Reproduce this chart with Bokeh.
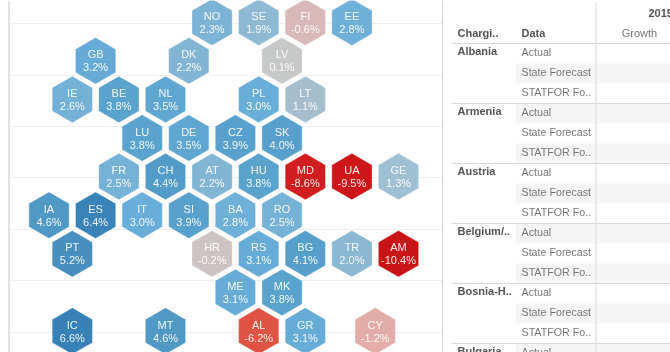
from bokeh.plotting import figure
from bokeh.layouts import row
from bokeh.models import Range1d, FixedTicker, Span, ColumnDataSource, LinearColorMapper, BoxAnnotation
from bokeh.core.properties import value
from bokeh.embed import file_html
from bokeh.resources import INLINE
import numpy as np

codes = ["NO","SE","FI","EE","GB","DK","LV","IE","BE","NL","PL","LT","LU","DE","CZ","SK",
         "FR","CH","AT","HU","MD","UA","GE","IA","ES","IT","SI","BA","RO","PT","HR","RS",
         "BG","TR","AM","ME","MK","IC","MT","AL","GR","CY"]
growth = [2.3,1.9,-0.6,2.8,3.2,2.2,0.1,2.6,3.8,3.5,3.0,1.1,3.8,3.5,3.9,4.0,
          2.5,4.4,2.2,3.8,-8.6,-9.5,1.3,4.6,6.4,3.0,3.9,2.8,2.5,5.2,-0.2,3.1,
          4.1,2.0,-10.4,3.1,3.8,6.6,4.6,-6.2,3.1,-1.2]
cols = [7,9,11,13,2,6,10,1,3,5,9,11,4,6,8,10,
        3,5,7,9,11,13,15,0,2,4,6,8,10,1,7,9,
        11,13,15,8,10,1,5,9,11,14]
rows = [0,0,0,0,1,1,1,2,2,2,2,2,3,3,3,3,
        4,4,4,4,4,4,4,5,5,5,5,5,5,6,6,6,
        6,6,6,7,7,8,8,8,8,8]
grid_rows = [0.03,1.37,2.70,4.03,5.37,6.70,8.04]

countries = ["Albania","Armenia","Austria","Belgium/..","Bosnia-H..","Bulgaria"]
data_kinds = ["Actual","State Forecast","STATFOR Fo.."]
year = "2015"
headers = ["Chargi..","Data","Growth"]

stops = [-10.4,-9.5,-8.6,-6.2,-1.2,-0.6,-0.2,0.1,1.1,1.3,1.9,2.0,2.2,2.6,3.0,3.8,4.6,5.2,6.4,6.6]
stop_colors = ["#c81417","#cc1619","#d01d1f","#e05243","#e2ada8","#d8b8b8","#cbc4c2","#c8c8c8",
               "#a6bdcc","#a0bfd2","#90bad3","#8ab8d2","#82b5d4","#73b1d6","#68aed8","#5aa3cd",
               "#5099c5","#468fbf","#3a83b8","#3681b6"]
rgb = np.array([[int(c[i:i+2],16) for i in (1,3,5)] for c in stop_colors])
vals = np.linspace(-10.4,6.6,256)
palette = ["#%02x%02x%02x" % tuple(int(round(np.interp(v,stops,rgb[:,k]))) for k in range(3)) for v in vals]
mapper = LinearColorMapper(palette=palette, low=-10.4, high=6.6)

FONT = value("Liberation Sans")
# hex map: 443 x 352 px, col pitch 23.3 px from x=48.5, row pitch 38.6 px from y=21.7
p = figure(width=443, height=352, output_backend="svg", toolbar_location=None,
           x_range=Range1d(-48.5/23.3, (443-48.5)/23.3),
           y_range=Range1d((352-21.7)/38.6, -21.7/38.6), min_border=0,
           background_fill_color="white")
p.outline_line_color = None
p.xaxis.visible = False
p.yaxis.visible = False
p.xgrid.visible = False
p.ygrid.ticker = FixedTicker(ticks=grid_rows)
p.ygrid.grid_line_color = "#efefef"
p.ygrid.grid_line_width = 1
p.add_layout(BoxAnnotation(right=(8.5-48.5)/23.3, fill_color="#ffffff", fill_alpha=1, line_color=None))
p.add_layout(Span(location=(8.5-48.5)/23.3, dimension="height", line_color="#d8d8d8", line_width=1.5))
p.add_layout(Span(location=(442.2-48.5)/23.3, dimension="height", line_color="#d8d8d8", line_width=1.5))

src = ColumnDataSource(dict(x=cols, y=rows, code=codes, growth=growth,
                            label=[f"{g:.1f}%" for g in growth]))
p.scatter("x","y",source=src,marker="hex",size=46.5,angle=np.pi/2,
          fill_color={"field":"growth","transform":mapper},line_color="#ffffff",line_alpha=0.35,line_width=1)
p.text("x","y",text="code",source=src,text_font=FONT,text_font_size="11px",text_color="#ffffff",text_alpha=0.9,
       text_align="center",text_baseline="middle",y_offset=-6.5)
p.text("x","y",text="label",source=src,text_font=FONT,text_font_size="11px",text_color="#ffffff",text_alpha=0.9,
       text_align="center",text_baseline="middle",y_offset=6.5)

# table: row r spans px 43+20r .. 63+20r
t = figure(width=227, height=352, output_backend="svg", toolbar_location=None,
           x_range=Range1d(443,670), y_range=Range1d((352-43)/20, -43/20), min_border=0)
t.outline_line_color = None
t.xaxis.visible = False
t.yaxis.visible = False
t.grid.visible = False
nrows = len(countries)*len(data_kinds)
band = [r for r in range(nrows) if r % 2 == 1]
t.quad(left=515,right=670,top=[r for r in band],bottom=[r+1 for r in band],fill_color="#f5f5f5",line_color=None)
seps = [r for r in range(nrows) if r % 3 == 0]
t.segment(x0=451,x1=670,y0=seps,y1=seps,line_color="#d8d8d8",line_width=1)
t.segment(x0=595.5,x1=595.5,y0=-2.05,y1=nrows,line_color="#d8d8d8",line_width=1)
t.text(x=[457],y=[-0.55],text=[headers[0]],text_font=FONT,text_font_style="bold",text_font_size="11px",text_color="#555555",text_baseline="middle")
t.text(x=[521],y=[-0.55],text=[headers[1]],text_font=FONT,text_font_style="bold",text_font_size="11px",text_color="#555555",text_baseline="middle")
t.text(x=[639],y=[-0.55],text=[headers[2]],text_font=FONT,text_font_size="11px",text_color="#777777",text_align="center",text_baseline="middle")
t.text(x=[648],y=[-1.55],text=[year],text_font=FONT,text_font_style="bold",text_font_size="11px",text_color="#555555",text_baseline="middle")
t.text(x=[457]*len(countries),y=[3*i+0.37 for i in range(len(countries))],text=countries,text_font=FONT,
       text_font_style="bold",text_font_size="11px",text_color="#555555",text_baseline="middle")
kind_rows = [r for r in range(nrows)]
t.text(x=[521]*nrows,y=[r+0.42 for r in kind_rows],text=[data_kinds[r%3] for r in kind_rows],text_font=FONT,
       text_font_size="10.7px",text_color="#777777",text_baseline="middle")

layout = row(p, t, spacing=0)
layout.styles = {"position":"fixed","left":"0px","top":"0px"}
open("out.html","w").write(file_html(layout, INLINE))
